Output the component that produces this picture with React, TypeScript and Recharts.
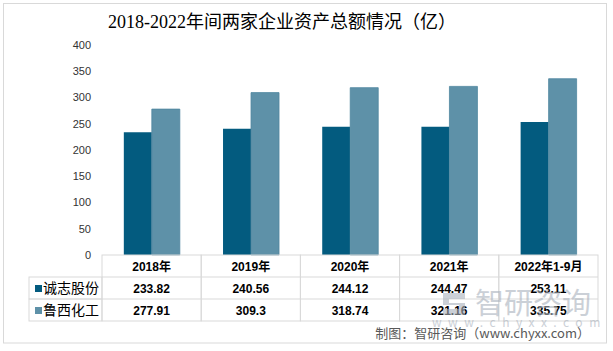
import React from 'react';
import { BarChart, Bar, XAxis, YAxis } from 'recharts';

const years = ['2018年', '2019年', '2020年', '2021年', '2022年1-9月'];
const chengzhi = [233.82, 240.56, 244.12, 244.47, 253.11];
const luxi = [277.91, 309.3, 318.74, 321.16, 335.75];
const yTicks = [0, 50, 100, 150, 200, 250, 300, 350, 400];

const SERIES = [
  { key: 'chengzhi', name: '诚志股份', color: '#035b7f', values: chengzhi },
  { key: 'luxi', name: '鲁西化工', color: '#5e91a8', values: luxi },
];

const data = years.map((y, i) => ({ year: y, chengzhi: chengzhi[i], luxi: luxi[i] }));

const W = 613;
const H = 351;
const PLOT_LEFT = 102;
const PLOT_RIGHT = 15;
const COL_W = (W - PLOT_LEFT - PLOT_RIGHT) / years.length;
const ROW_H = 22;
const LEGEND_LEFT = 29;
const GRID = '#d9d9d9';
const CJK = "'Noto Sans CJK SC', sans-serif";
const SERIF = "'Liberation Serif', 'Noto Sans CJK SC', serif";

const fmt = (v: number) => String(v);

// table drawn under each category tick
const TableTick = (props: any) => {
  const { x, y, payload } = props;
  const i = payload.index;
  const left = x - COL_W / 2;
  return (
    <g>
      <rect x={left} y={y} width={COL_W} height={ROW_H * 3} fill="none" stroke={GRID} />
      <line x1={left} x2={left + COL_W} y1={y + ROW_H} y2={y + ROW_H} stroke={GRID} />
      <line x1={left} x2={left + COL_W} y1={y + ROW_H * 2} y2={y + ROW_H * 2} stroke={GRID} />
      <text x={x} y={y + ROW_H / 2 + 4.5} textAnchor="middle" fontSize={12} fontWeight="bold"
        fontFamily="'Liberation Sans', 'Noto Sans CJK SC', sans-serif" fill="#000">
        {payload.value}
      </text>
      {SERIES.map((s, r) => (
        <text key={s.key} x={x} y={y + ROW_H * (r + 1) + ROW_H / 2 + 4.5} textAnchor="middle"
          fontSize={12} fontWeight="bold" fontFamily="'Liberation Sans', sans-serif" fill="#000">
          {fmt(s.values[i])}
        </text>
      ))}
      {i === 0 && SERIES.map((s, r) => (
        <g key={s.key}>
          <rect x={LEGEND_LEFT} y={y + ROW_H * (r + 1)} width={left - LEGEND_LEFT} height={ROW_H}
            fill="none" stroke={GRID} />
          <rect x={LEGEND_LEFT + 6} y={y + ROW_H * (r + 1) + 8} width={7} height={7} fill={s.color} />
          <text x={LEGEND_LEFT + 14} y={y + ROW_H * (r + 1) + ROW_H / 2 + 5} fontSize={14}
            fontFamily={SERIF} fill="#000">
            {s.name}
          </text>
        </g>
      ))}
    </g>
  );
};

export default function App() {
  return (
    <div style={{ position: 'absolute', left: 0, top: 0, width: W, height: H, background: '#fff' }}>
      <BarChart width={W} height={H} data={data}
        margin={{ top: 45, right: PLOT_RIGHT, left: 0, bottom: 30 }}
        barCategoryGap="22%" barGap={0}>
        <YAxis domain={[0, 400]} ticks={yTicks} width={PLOT_LEFT} axisLine={false} tickLine={false}
          tickSize={0} tickMargin={11} tick={{ fontSize: 11, fill: '#333', fontFamily: "'Liberation Sans', sans-serif" }} />
        <XAxis dataKey="year" height={ROW_H * 3} axisLine={false} tickLine={false} tickSize={0}
          tickMargin={0} interval={0} tick={<TableTick />} />
        {SERIES.map(s => (
          <Bar key={s.key} dataKey={s.key} name={s.name} fill={s.color}
            stroke={s.key === 'luxi' ? '#4f86a0' : 'none'} strokeWidth={0.8} isAnimationActive={false} />
        ))}
      </BarChart>
      <svg width={W} height={H} style={{ position: 'absolute', left: 0, top: 0, pointerEvents: 'none' }}>
        <rect x={3.5} y={3.5} width={603} height={339.5} fill="none" stroke={GRID} />
        <text x={282} y={28} textAnchor="middle" fontSize={18} fontFamily={SERIF} fill="#000">
          2018-2022年间两家企业资产总额情况（亿）
        </text>
        <g opacity={0.6} fill="#aab2bd">
          <path d="M443 293 h22 v6 h-16 v4 h16 v12 h-22 v-6 h16 v-4 h-16 z" />
          <text x={475} y={314} fontSize={29} fontFamily={CJK}>智研咨询</text>
          <text x={432} y={327} fontSize={12} fontFamily={CJK} letterSpacing={6.5}>www.chyxx.com</text>
        </g>
        <text x={590} y={338} textAnchor="end" fontSize={13} fontFamily={CJK} fill="#595959">
          制图：智研咨询（www.chyxx.com）
        </text>
      </svg>
    </div>
  );
}
